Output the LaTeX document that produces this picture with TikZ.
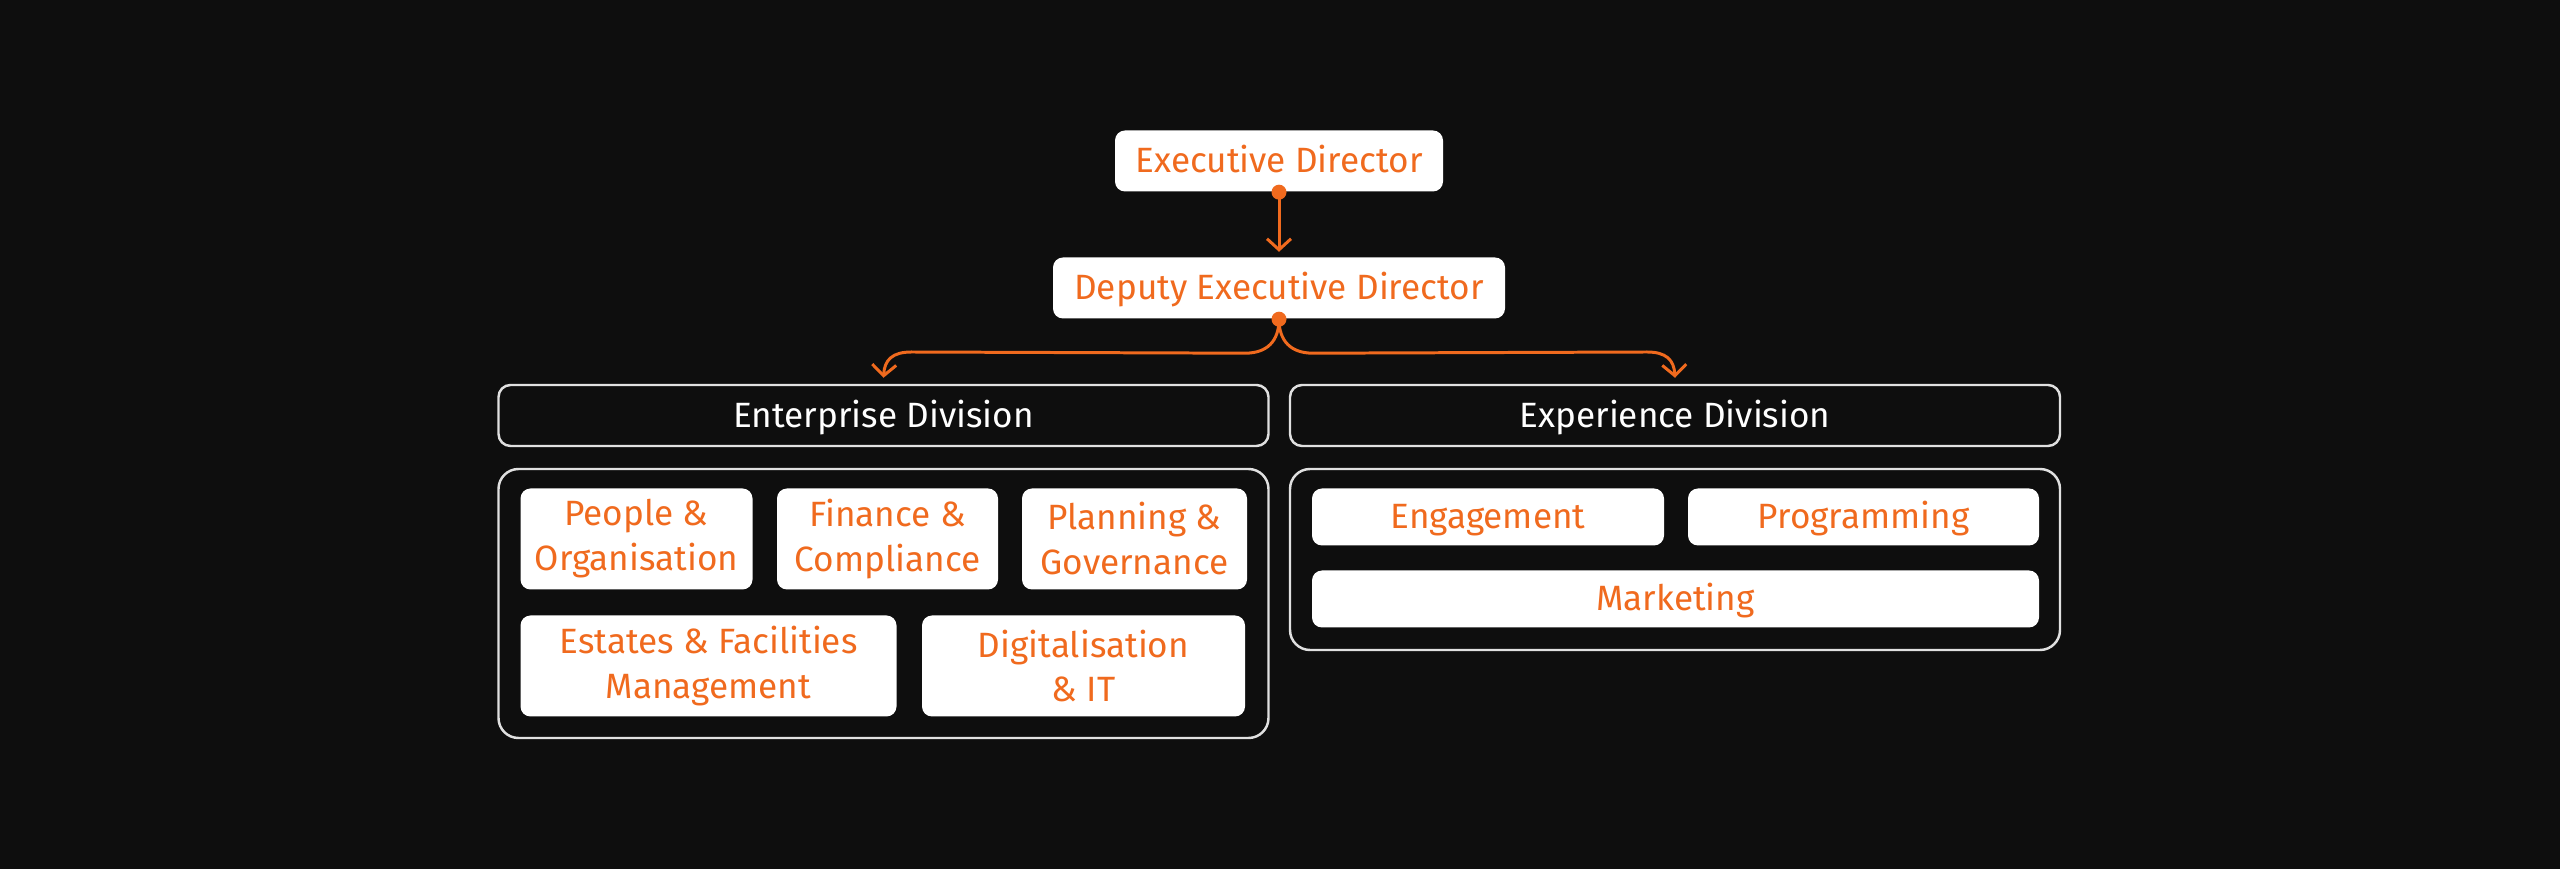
\documentclass[tikz,border=0pt]{standalone}
\usepackage{fontspec}
\setmainfont{Fira Sans}
\usetikzlibrary{arrows.meta}
\definecolor{bgcol}{RGB}{14,14,14}
\definecolor{orangecol}{RGB}{240,106,30}
\tikzset{
  unitbox/.style={fill=white,rounded corners=1mm,text=orangecol,align=center,
    font=\fontsize{10}{12.8}\selectfont,inner sep=0pt},
  oneline/.style={text height=3mm,text depth=0.6mm},
  divbox/.style={draw=white!88!black,line width=0.7pt,rounded corners=1.2mm,
    text=white,font=\fontsize{10}{12.8}\selectfont,inner sep=0pt,
    minimum width=77mm,minimum height=6.1mm,oneline},
  groupbox/.style={draw=white!88!black,line width=0.7pt,rounded corners=2mm,
    inner sep=0pt,minimum width=77mm},
  link/.style={draw=orangecol,line width=0.85pt,
    -{Straight Barb[length=1.1mm,width=2.4mm,line width=0.85pt]}},
}
\begin{document}
\begin{tikzpicture}[x=0.1mm,y=-0.1mm]
  \fill[bgcol] (0,0) rectangle (2560,869);
  \useasboundingbox (0,0) rectangle (2560,869);
  % Directors
  \node[unitbox,oneline,minimum width=32.8mm,minimum height=6.1mm] (exec) at (1279,161) {Executive Director};
  \node[unitbox,oneline,minimum width=45.2mm,minimum height=6.1mm] (deputy) at (1279,288) {Deputy Executive Director};
  % Divisions
  \node[divbox] (entdiv) at (883.5,415.5) {Enterprise Division};
  \node[divbox] (expdiv) at (1675,415.5) {Experience Division};
  \node[groupbox,minimum height=26.9mm] (entbox) at (883.5,603.5) {};
  \node[groupbox,minimum height=18.1mm] (expbox) at (1675,559.5) {};
  % Enterprise units
  \node[unitbox,minimum width=23.2mm,minimum height=10.1mm] (people) at (636.5,539) {People \&\\Organisation};
  \node[unitbox,minimum width=22.1mm,minimum height=10.1mm] (finance) at (887.5,539) {Finance \&\\Compliance};
  \node[unitbox,minimum width=22.5mm,minimum height=10.1mm] (planning) at (1134.5,539) {Planning \&\\Governance};
  \node[unitbox,minimum width=37.6mm,minimum height=10.1mm] (estates) at (708.5,666) {Estates \& Facilities\\Management};
  \node[unitbox,minimum width=32.3mm,minimum height=10.1mm] (digital) at (1083.5,666) {Digitalisation\\\& IT};
  % Experience units
  \node[unitbox,oneline,minimum width=35.2mm,minimum height=5.7mm] (engage) at (1488,517) {Engagement};
  \node[unitbox,oneline,minimum width=35.1mm,minimum height=5.7mm] (program) at (1863.5,517) {Programming};
  \node[unitbox,oneline,minimum width=72.7mm,minimum height=5.7mm] (market) at (1675.5,599) {Marketing};
  % Links
  \coordinate (enttip) at ([yshift=0.6mm]entdiv.north);
  \coordinate (exptip) at ([yshift=0.6mm]expdiv.north);
  \draw[link] (exec.south) -- ([yshift=0.5mm]deputy.north);
  \draw[link] (deputy.south) .. controls +(0,22) and +(22,0) .. +(-34,34)
    -- ([xshift=2.8mm]enttip |- 0,352) .. controls +(-19,0) and +(1,-18) .. (enttip);
  \draw[link] (deputy.south) .. controls +(0,22) and +(-22,0) .. +(34,34)
    -- ([xshift=-2.8mm]exptip |- 0,352) .. controls +(19,0) and +(-1,-18) .. (exptip);
  \fill[orangecol] (exec.south) circle (0.75mm);
  \fill[orangecol] (deputy.south) circle (0.75mm);
\end{tikzpicture}
\end{document}
